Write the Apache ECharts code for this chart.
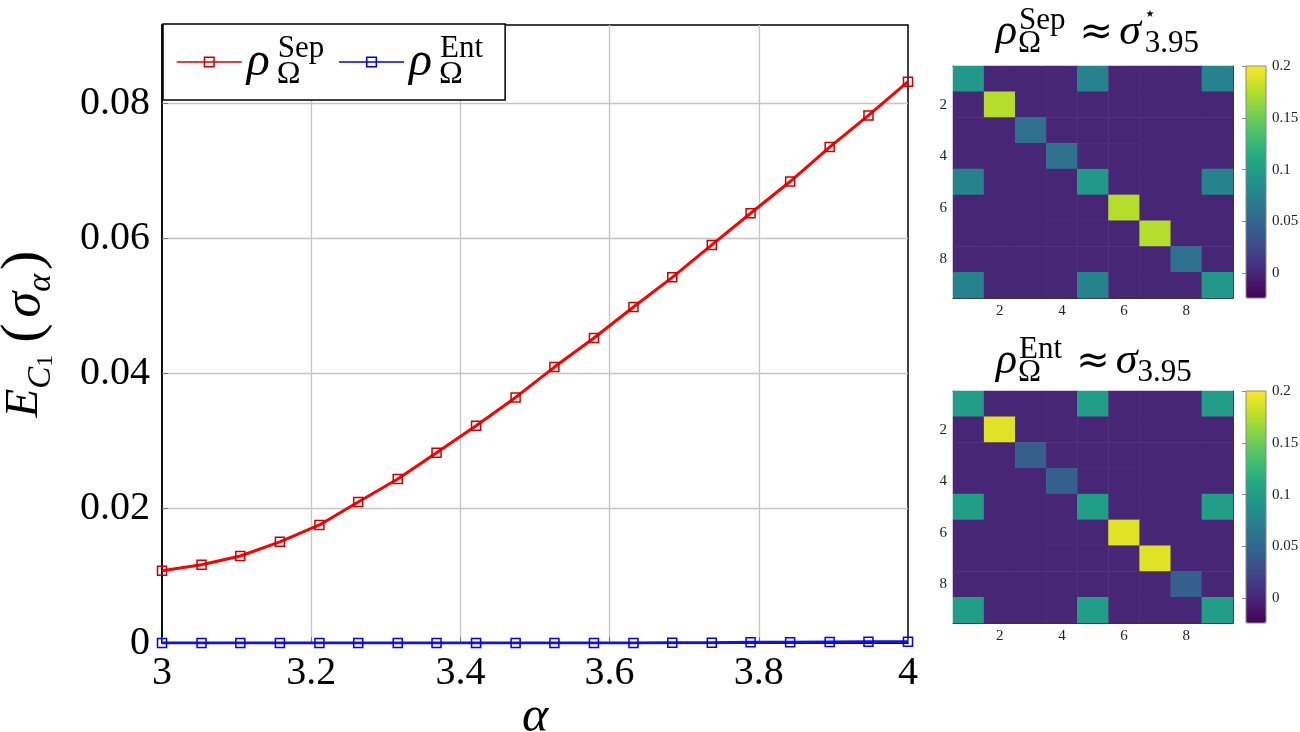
<!DOCTYPE html>
<html>
<head>
<meta charset="utf-8">
<script src="https://cdn.jsdelivr.net/npm/echarts@6/dist/echarts.min.js"></script>
<style>
  html, body { margin: 0; background: #fff; }
  #chart { width: 1300px; height: 732px; }
</style>
</head>
<body>
<div id="chart"></div>
<script>
// alpha grid and E_C1 values
const alphas = [3.000, 3.053, 3.105, 3.158, 3.211, 3.263, 3.316, 3.368, 3.421, 3.474,
                3.526, 3.579, 3.632, 3.684, 3.737, 3.789, 3.842, 3.895, 3.947, 4.000];
const sepValues = [0.0107, 0.0116, 0.0129, 0.0150, 0.0175, 0.0209, 0.0243, 0.0282, 0.0322, 0.0364,
                   0.0409, 0.0452, 0.0498, 0.0542, 0.0590, 0.0637, 0.0684, 0.0735, 0.0782, 0.0832];
const entValues = [0, 0, 0, 0, 0, 0, 0, 0, 0, 0,
                   0, 0, 0, 0.00005, 0.00005, 0.0001, 0.0001, 0.00015, 0.0002, 0.0002];

const xTicks = [3, 3.2, 3.4, 3.6, 3.8, 4];
const yTicks = [0, 0.02, 0.04, 0.06, 0.08];

// 9x9 density matrices (rows top to bottom)
const matrixLabels = ["1", "2", "3", "4", "5", "6", "7", "8", "9"];
const sepMatrix = [
  [0.095, 0, 0, 0, 0.075, 0, 0, 0, 0.075],
  [0, 0.175, 0, 0, 0, 0, 0, 0, 0],
  [0, 0, 0.058, 0, 0, 0, 0, 0, 0],
  [0, 0, 0, 0.058, 0, 0, 0, 0, 0],
  [0.075, 0, 0, 0, 0.095, 0, 0, 0, 0.075],
  [0, 0, 0, 0, 0, 0.175, 0, 0, 0],
  [0, 0, 0, 0, 0, 0, 0.175, 0, 0],
  [0, 0, 0, 0, 0, 0, 0, 0.058, 0],
  [0.075, 0, 0, 0, 0.075, 0, 0, 0, 0.095],
];
const entMatrix = [
  [0.1, 0, 0, 0, 0.1, 0, 0, 0, 0.1],
  [0, 0.19, 0, 0, 0, 0, 0, 0, 0],
  [0, 0, 0.044, 0, 0, 0, 0, 0, 0],
  [0, 0, 0, 0.044, 0, 0, 0, 0, 0],
  [0.1, 0, 0, 0, 0.1, 0, 0, 0, 0.1],
  [0, 0, 0, 0, 0, 0.19, 0, 0, 0],
  [0, 0, 0, 0, 0, 0, 0.19, 0, 0],
  [0, 0, 0, 0, 0, 0, 0, 0.044, 0],
  [0.1, 0, 0, 0, 0.1, 0, 0, 0, 0.1],
];
const colorbarTicks = [0, 0.05, 0.1, 0.15, 0.2];
const colorMin = -0.024;
const colorMax = 0.2;

const viridis = ["#440154", "#482475", "#414487", "#355f8d", "#2a788e", "#21918c",
                 "#22a884", "#44bf70", "#7ad151", "#bddf26", "#fde725"];

const serif = "'Liberation Serif', 'Times New Roman', serif";

function toCells(matrix) {
  const cells = [];
  matrix.forEach((row, r) => row.forEach((v, c) => cells.push([c, r, v])));
  return cells;
}

const txt = { fontFamily: serif, fontWeight: "normal", color: "#000", align: "left" };

const titleRich = {
  r: { ...txt, fontStyle: "italic", fontSize: 44, lineHeight: 54 },
  o: { ...txt, fontSize: 31, lineHeight: 24, verticalAlign: "bottom", width: 1, padding: [0, 0, 0, 1] },
  s: { ...txt, fontSize: 31, lineHeight: 24, verticalAlign: "top" },
  n: { ...txt, fontFamily: "DejaVu Sans", fontSize: 40, lineHeight: 50, padding: [4, 6, 0, 14] },
  st: { ...txt, fontFamily: "DejaVu Sans", fontSize: 20, lineHeight: 22, verticalAlign: "top", width: 1, padding: [0, 0, 0, 3] },
  d: { ...txt, fontSize: 31, lineHeight: 24, verticalAlign: "bottom" },
};

const legendRich = {
  r: { ...txt, fontStyle: "italic", fontSize: 48, lineHeight: 58 },
  o: { ...txt, fontSize: 32, lineHeight: 26, verticalAlign: "bottom", width: 1, padding: [0, 0, 0, 7] },
  s: { ...txt, fontSize: 31, lineHeight: 26, verticalAlign: "top" },
};

const nameRich = {
  E: { ...txt, fontStyle: "italic", fontSize: 47, lineHeight: 66 },
  C: { ...txt, fontStyle: "italic", fontSize: 33, lineHeight: 34, verticalAlign: "bottom" },
  one: { ...txt, fontSize: 24, lineHeight: 18, verticalAlign: "bottom" },
  p: { ...txt, fontSize: 58, lineHeight: 66, padding: [0, 6, 0, 12] },
  q: { ...txt, fontSize: 58, lineHeight: 66, padding: [0, 0, 0, 4] },
  g: { ...txt, fontStyle: "italic", fontSize: 52, lineHeight: 66 },
  a: { ...txt, fontStyle: "italic", fontSize: 34, lineHeight: 32, verticalAlign: "bottom" },
};

const hmLabel = { fontFamily: serif, fontSize: 15, color: "#222", margin: 6 };
const everyOther = (index) => index % 2 === 1;

function matrixAxes(gridIndex) {
  const common = {
    type: "category",
    gridIndex,
    data: matrixLabels,
    axisLine: { show: true, lineStyle: { color: "#333", width: 1 } },
    axisTick: { show: true, inside: true, length: 5, alignWithLabel: true, interval: everyOther, lineStyle: { color: "#888" } },
    splitLine: { show: false },
  };
  return {
    x: [
      { ...common, position: "bottom", axisLabel: { ...hmLabel, interval: everyOther } },
      { ...common, position: "top", axisLabel: { show: false } },
    ],
    y: [
      { ...common, position: "left", inverse: true, axisLabel: { ...hmLabel, interval: everyOther } },
      { ...common, position: "right", inverse: true, axisLabel: { show: false } },
    ],
  };
}

function colorbarAxes(gridIndex) {
  return {
    x: { type: "value", gridIndex, min: 0, max: 1, show: false },
    y: {
      type: "value",
      gridIndex,
      position: "right",
      min: colorMin,
      max: colorMax,
      axisLine: { show: false },
      axisTick: { show: true, inside: true, length: 4, customValues: colorbarTicks, lineStyle: { color: "#888" } },
      axisLabel: { fontFamily: serif, fontSize: 15, color: "#222", margin: 6, customValues: colorbarTicks },
      splitLine: { show: false },
    },
  };
}

const m1 = matrixAxes(1);
const m2 = matrixAxes(2);
const c1 = colorbarAxes(3);
const c2 = colorbarAxes(4);

const chart = echarts.init(document.getElementById("chart"), undefined, { renderer: "canvas" });
chart.setOption({
  animation: false,
  backgroundColor: "#fff",
  title: [
    {
      left: 996, top: 5, padding: 0,
      text: "{r|ρ}{o|Ω}{s|Sep}{n|≈}{r|σ}{st|⋆}{d|3.95}",
      textStyle: { fontWeight: "normal", rich: titleRich },
    },
    {
      left: 996, top: 334, padding: 0,
      text: "{r|ρ}{o|Ω}{s|Ent}{n|≈}{r|σ}{d|3.95}",
      textStyle: { fontWeight: "normal", rich: titleRich },
    },
  ],
  legend: {
    left: 163,
    top: 24,
    padding: [9, 22, 9, 13],
    itemWidth: 65,
    itemHeight: 12,
    itemGap: 14,
    borderColor: "#000",
    borderWidth: 1.5,
    backgroundColor: "#fff",
    formatter: (name) => `{r|ρ}{o|Ω}{s|${name}}`,
    textStyle: { rich: legendRich },
    data: [
      { name: "Sep", itemStyle: { color: "rgba(0,0,0,0)", borderColor: "#cc0000", borderWidth: 1.5 }, lineStyle: { color: "#dd0000", width: 1.5 } },
      { name: "Ent", itemStyle: { color: "rgba(0,0,0,0)", borderColor: "#0000dd", borderWidth: 1.5 }, lineStyle: { color: "#0000dd", width: 1.5 } },
    ],
  },
  grid: [
    { left: 162, top: 25, width: 746, height: 618, outerBoundsMode: "none", show: true, borderColor: "#000", borderWidth: 1.5, backgroundColor: "transparent" },
    { left: 953, top: 66, width: 280, height: 232, outerBoundsMode: "none" },
    { left: 953, top: 391, width: 280, height: 232, outerBoundsMode: "none" },
    { left: 1246, top: 66, width: 20, height: 232, outerBoundsMode: "none", show: true, z: 6, borderColor: "#888", borderWidth: 1, backgroundColor: "transparent" },
    { left: 1246, top: 391, width: 20, height: 232, outerBoundsMode: "none", show: true, z: 6, borderColor: "#888", borderWidth: 1, backgroundColor: "transparent" },
  ],
  xAxis: [
    {
      type: "value",
      gridIndex: 0,
      min: xTicks[0],
      max: xTicks[xTicks.length - 1],
      interval: 0.2,
      name: "{a|α}",
      nameLocation: "middle",
      nameGap: 50,
      nameMoveOverlap: false,
      nameTextStyle: { rich: { a: { ...txt, fontStyle: "italic", fontSize: 50, lineHeight: 50 } } },
      axisLine: { show: true, lineStyle: { color: "#000", width: 1.5 } },
      axisTick: { show: true, inside: true, length: 6, lineStyle: { color: "#777" } },
      axisLabel: { fontFamily: serif, fontSize: 40, color: "#000", margin: 10 },
      splitLine: { show: true, showMinLine: false, showMaxLine: false, lineStyle: { color: "#c4c4c4", width: 1.3 } },
    },
    ...m1.x,
    ...m2.x,
    c1.x,
    c2.x,
  ],
  yAxis: [
    {
      type: "value",
      gridIndex: 0,
      min: yTicks[0],
      max: 0.0916,
      interval: 0.02,
      name: "{E|E}{C|C}{one|1}{p|(}{g|σ}{a|α}{q|)}",
      nameLocation: "middle",
      nameRotate: 90,
      nameGap: 104,
      nameTextStyle: { rich: nameRich },
      axisLine: { show: true, lineStyle: { color: "#000", width: 1.5 } },
      axisTick: { show: true, inside: true, length: 6, lineStyle: { color: "#777" } },
      axisLabel: { fontFamily: serif, fontSize: 40, color: "#000", margin: 12, showMaxLabel: false },
      splitLine: { show: true, showMinLine: false, showMaxLine: false, lineStyle: { color: "#c4c4c4", width: 1.3 } },
    },
    ...m1.y,
    ...m2.y,
    c1.y,
    c2.y,
  ],
  visualMap: [
    {
      type: "continuous",
      seriesIndex: 2,
      min: colorMin,
      max: colorMax,
      calculable: false,
      hoverLink: false,
      left: 1246,
      top: 66,
      padding: 0,
      itemWidth: 20,
      itemHeight: 232,
      inRange: { color: viridis },
    },
    {
      type: "continuous",
      seriesIndex: 3,
      min: colorMin,
      max: colorMax,
      calculable: false,
      hoverLink: false,
      left: 1246,
      top: 391,
      padding: 0,
      itemWidth: 20,
      itemHeight: 232,
      inRange: { color: viridis },
    },
  ],
  series: [
    {
      name: "Sep",
      type: "line",
      xAxisIndex: 0,
      yAxisIndex: 0,
      data: alphas.map((a, i) => [a, sepValues[i]]),
      symbol: "rect",
      symbolSize: 9,
      lineStyle: { color: "#ff0000", width: 3 },
      itemStyle: { color: "rgba(0,0,0,0)", borderColor: "#cc0000", borderWidth: 1.5 },
      z: 3,
    },
    {
      name: "Ent",
      type: "line",
      xAxisIndex: 0,
      yAxisIndex: 0,
      data: alphas.map((a, i) => [a, entValues[i]]),
      symbol: "rect",
      symbolSize: 9,
      lineStyle: { color: "#1414d2", width: 3 },
      itemStyle: { color: "rgba(0,0,0,0)", borderColor: "#0000ff", borderWidth: 1.5 },
      z: 3,
    },
    {
      type: "heatmap",
      xAxisIndex: 1,
      yAxisIndex: 1,
      data: toCells(sepMatrix),
    },
    {
      type: "heatmap",
      xAxisIndex: 3,
      yAxisIndex: 3,
      data: toCells(entMatrix),
    },
  ],
});
</script>
</body>
</html>
